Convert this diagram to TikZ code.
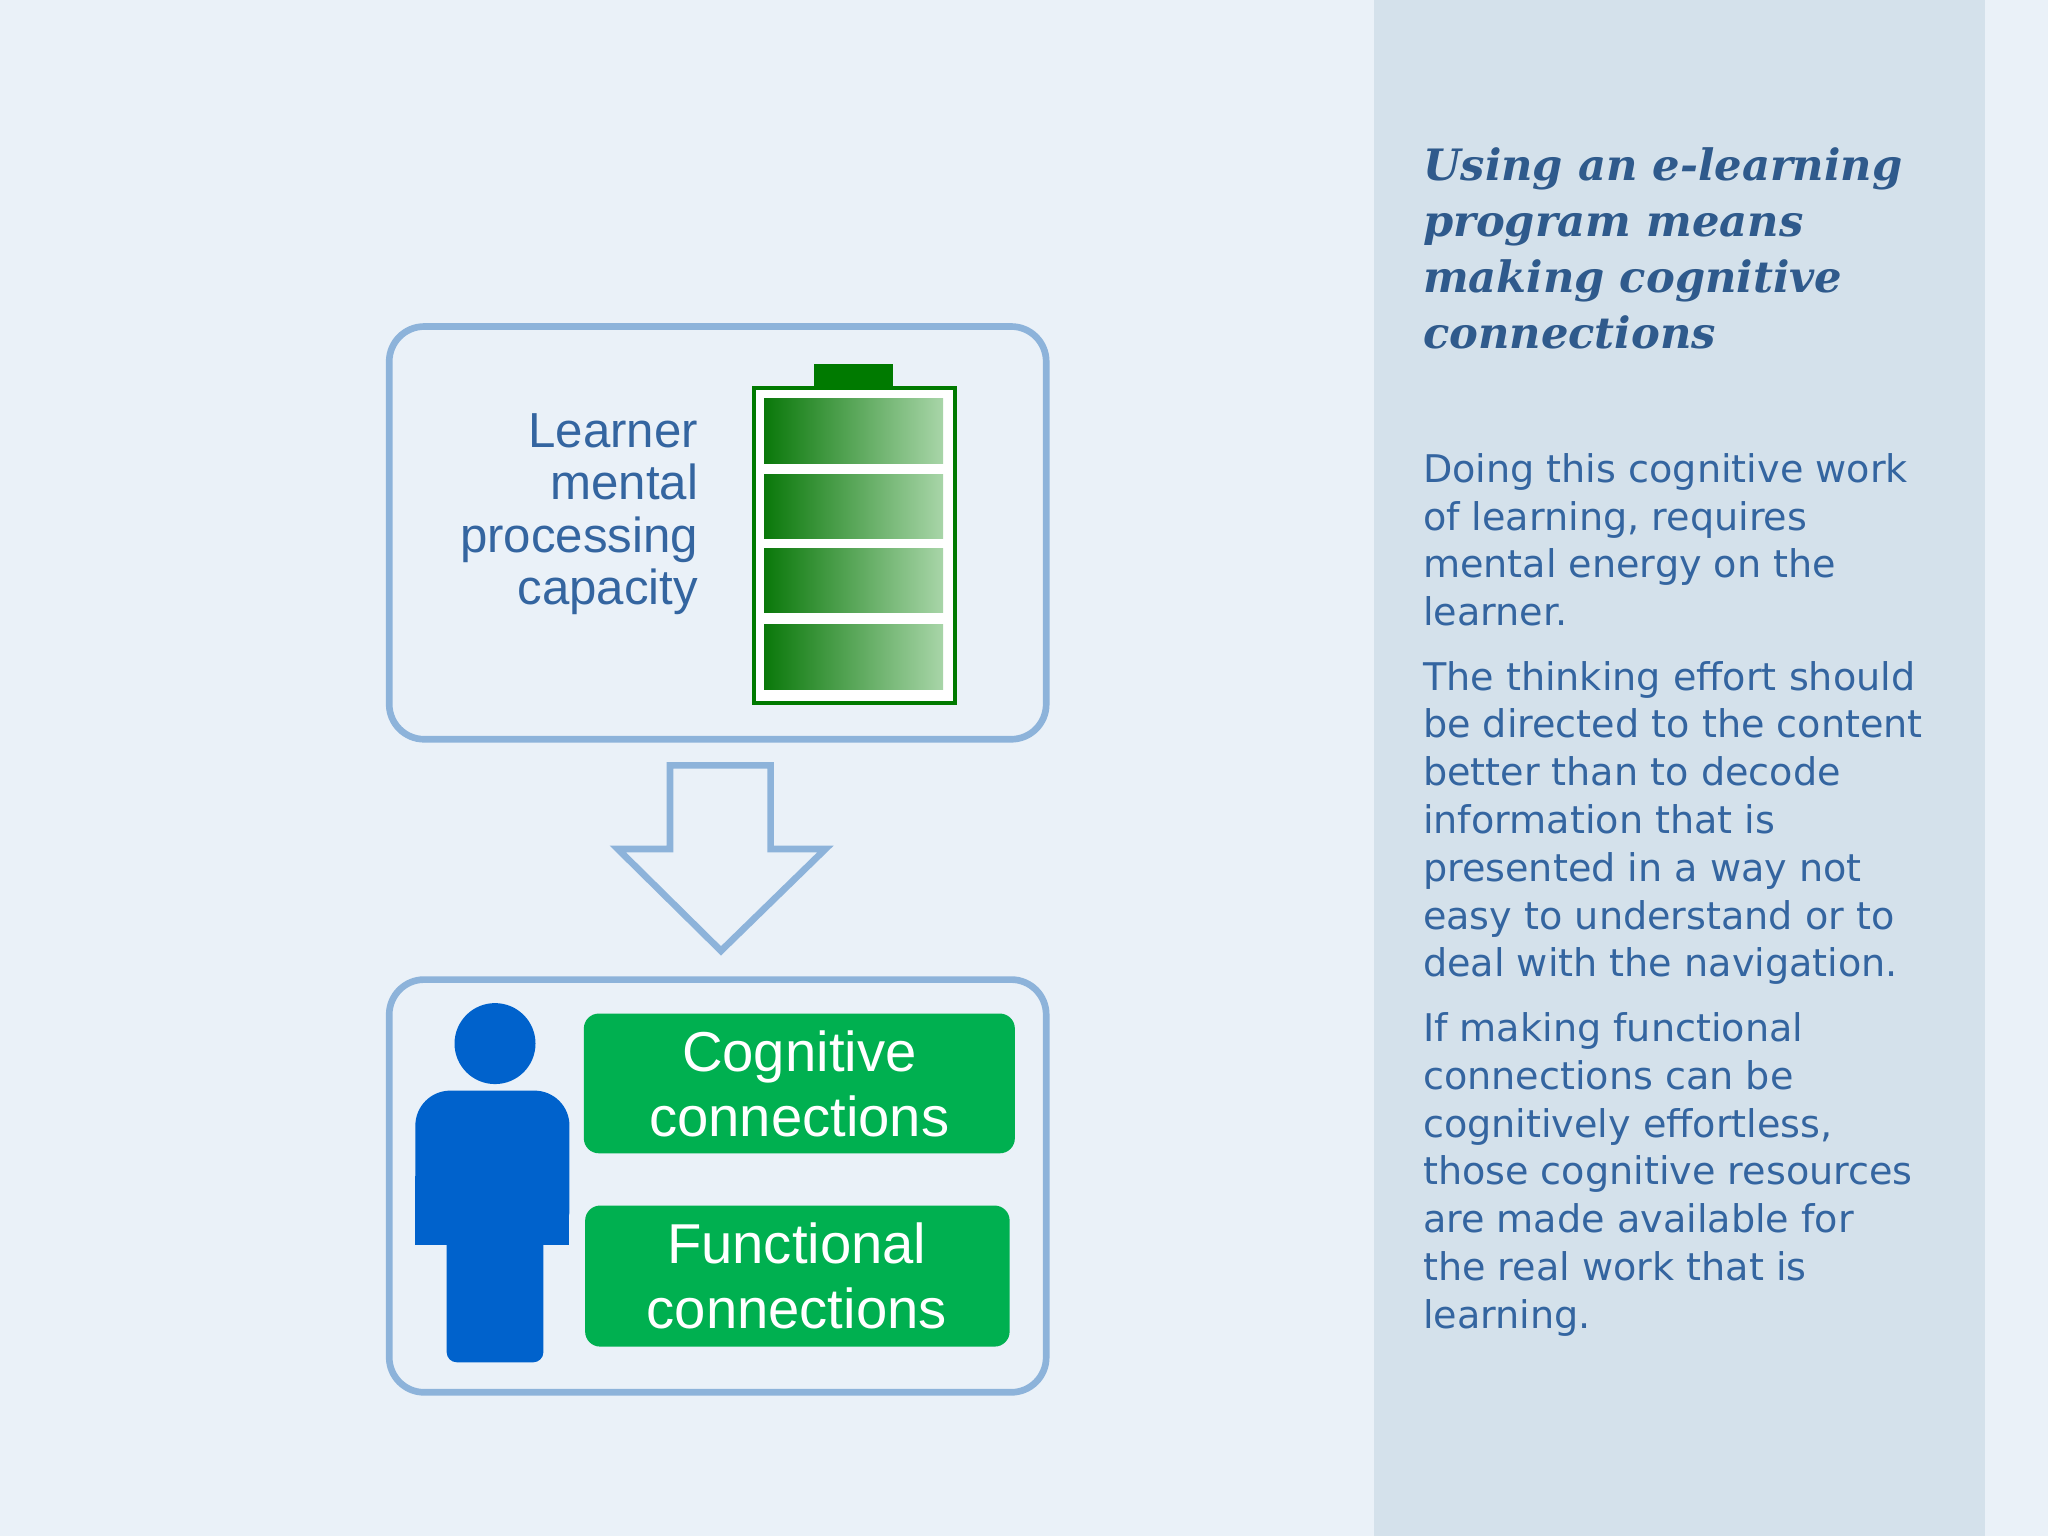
\documentclass[tikz,border=0pt]{standalone}
\usepackage{fontspec}
\setmainfont{Liberation Sans}
\newfontfamily\vsans{DejaVu Sans}
\newfontfamily\tserif{DejaVu Serif}
\begin{document}
\begin{tikzpicture}[x=0.01306cm,y=-0.01306cm,
  frame/.style={draw=frm,line width=1.9pt,rounded corners=0.35cm,fill=bg},
  gbox/.style={fill=gr,rounded corners=0.15cm},
  gtext/.style={text=white,font=\fontsize{16}{18.6}\selectfont,align=center},
  body/.style={text=txt,font=\vsans\fontsize{10.85}{13.6}\selectfont,align=left,anchor=base west,inner sep=0pt},
  cell/.style={left color=dgr,right color=lgr}]
\definecolor{bg}{HTML}{EAF1F8}
\definecolor{pan}{HTML}{D4E1EB}
\definecolor{frm}{HTML}{8DB3DA}
\definecolor{gr}{HTML}{00B050}
\definecolor{dgr}{HTML}{0A780A}
\definecolor{lgr}{HTML}{A8D5A8}
\definecolor{bat}{HTML}{007A00}
\definecolor{per}{HTML}{0062CC}
\definecolor{txt}{HTML}{3465A0}
\definecolor{ttl}{HTML}{2F5A8C}
\fill[bg] (0,0) rectangle (1568,1176);
\useasboundingbox (0,0) rectangle (1568,1176);
\fill[pan] (1052,0) rectangle (1520,1176);
% top box
\draw[frame] (298,250) rectangle (801,566);
\node[text=txt,font=\fontsize{14}{14.9}\selectfont,align=right,anchor=base east,inner sep=0pt] (lab) at (535,463) {Learner\\mental\\processing\\capacity};
% battery
\fill[bat] (623,279) rectangle (684,297);
\draw[bat,line width=1.1pt,fill=white] (577,297) rectangle (731,538);
\foreach \a/\b in {305/355,363/412,420/469,478/528}
  \fill[cell] (585,\a) rectangle (722,\b);
% arrow
\draw[draw=frm,line width=1.9pt,fill=bg,line join=miter] (513,586) -- (590,586) -- (590,650) -- (632,650) -- (552,728) -- (473,650) -- (513,650) -- cycle;
% bottom box
\draw[frame] (298,750) rectangle (801,1066);
\fill[per] (379,799) circle (31);
\fill[per,rounded corners=0.35cm] (318,953) -- (318,835) -- (436,835) -- (436,953) -- cycle;
\fill[per,rounded corners=0.1cm] (342,940) -- (342,1043) -- (416,1043) -- (416,940) -- cycle;
\fill[per] (318,900) rectangle (436,953);
\fill[gbox] (447,776) rectangle (777,883);
\node[gtext] (cog) at (612,830) {Cognitive\\connections};
\fill[gbox] (448,923) rectangle (773,1031);
\node[gtext] (fun) at (610,977) {Functional\\connections};
% right panel text
\node[text=ttl,font=\tserif\bfseries\itshape\fontsize{12.3}{16}\selectfont,align=left,anchor=base west,inner sep=0pt] (title) at (1089,267) {Using an e-learning\\program means\\making cognitive\\connections};
\node[body] (p1) at (1089,479) {Doing this cognitive work\\of learning, requires\\mental energy on the\\learner.};
\node[body] (p2) at (1089,748) {The thinking effort should\\be directed to the content\\better than to decode\\information that is\\presented in a way not\\easy to understand or to\\deal with the navigation.};
\node[body] (p3) at (1089,1017) {If making functional\\connections can be\\cognitively effortless,\\those cognitive resources\\are made available for\\the real work that is\\learning.};
\end{tikzpicture}
\end{document}
